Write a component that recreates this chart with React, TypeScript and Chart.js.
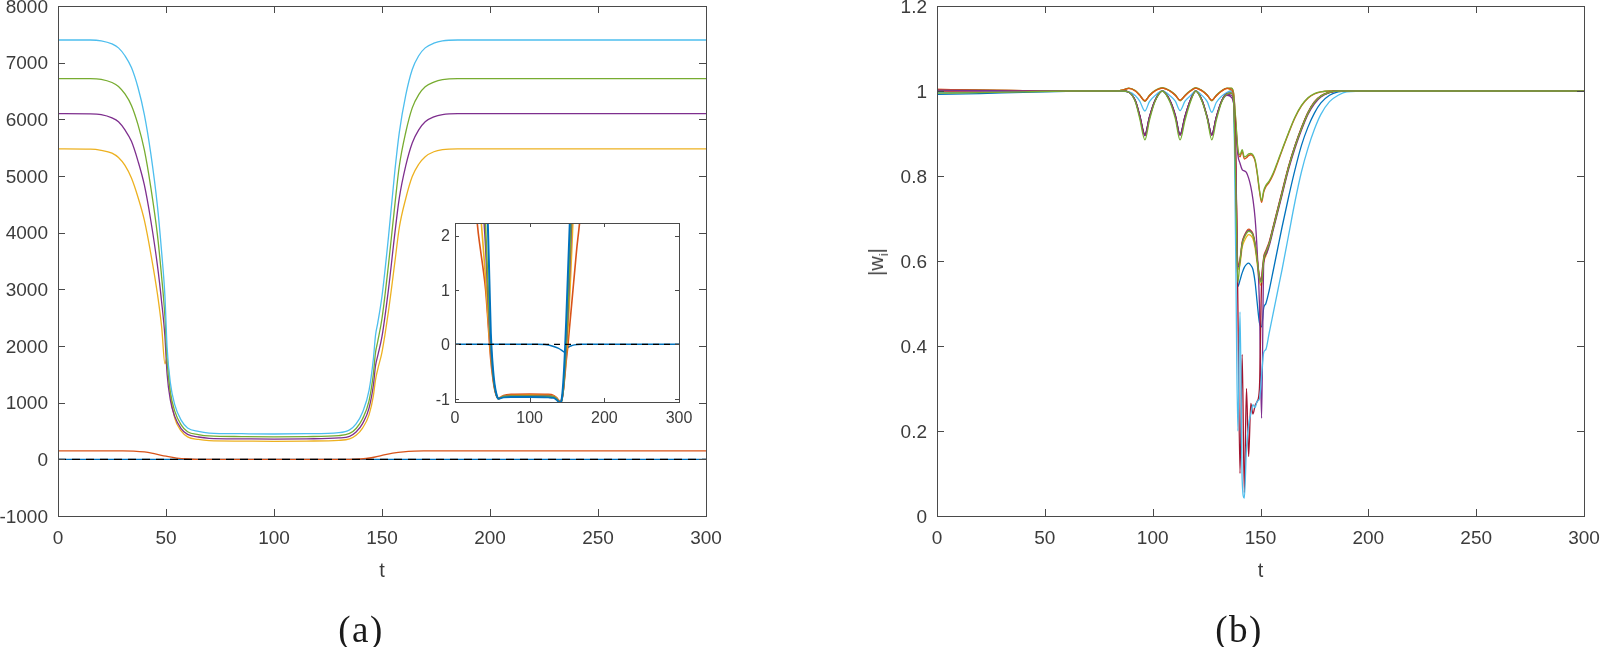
import React, { useEffect, useRef } from 'react';
import { Chart, registerables } from 'chart.js';
Chart.register(...registerables);

const FONT = '"Liberation Sans", Arial, Helvetica, sans-serif';
const AXIS = '#4a4a4a';
const TXT = '#3c3c3c';
const C = { blue: '#0072BD', red: '#D95319', yellow: '#EDB120', purple: '#7E2F8E', green: '#77AC30', cyan: '#4DBEEE', darkred: '#A2142F' };

// ---------- (a) main panel ----------
const xTicks = [0, 50, 100, 150, 200, 250, 300];
const xLabels = ['0', '50', '100', '150', '200', '250', '300'];
const yTicksA = [-1000, 0, 1000, 2000, 3000, 4000, 5000, 6000, 7000, 8000];
const yLabelsA = ['-1000', '0', '1000', '2000', '3000', '4000', '5000', '6000', '7000', '8000'];

const tA = [0, 15, 20, 25, 28, 31, 34, 37, 40, 43, 46, 48, 49.5, 50.5, 52, 54, 57, 60, 65, 70, 85, 100, 115, 130, 135, 138, 141, 144, 146, 147, 148, 150, 153, 156, 158, 161, 164, 167, 170, 174, 178, 185, 200, 300];
const cyanA = [7400, 7400, 7386, 7331, 7261, 7122, 6914, 6566, 6080, 5385, 4481, 3647, 2883, 1979, 1354, 971, 693, 554, 492, 464, 452, 447, 452, 471, 520, 624, 832, 1215, 1770, 2190, 2400, 2880, 3925, 5107, 5767, 6427, 6879, 7122, 7261, 7344, 7385, 7400, 7400, 7400];
const greenA = [6720, 6720, 6707, 6650, 6581, 6448, 6246, 5911, 5456, 4792, 3971, 3212, 2517, 1727, 1190, 855, 609, 488, 438, 413, 402, 398, 402, 419, 457, 545, 716, 1032, 1506, 1885, 2075, 2486, 3434, 4508, 5172, 5772, 6202, 6436, 6575, 6657, 6701, 6720, 6720, 6720];
const purpleA = [6100, 6097, 6083, 6025, 5957, 5813, 5612, 5268, 4837, 4206, 3431, 2771, 2168, 1508, 1049, 762, 544, 440, 394, 371, 362, 358, 362, 377, 406, 481, 630, 905, 1307, 1652, 1824, 2168, 3000, 4005, 4608, 5182, 5583, 5813, 5957, 6043, 6083, 6100, 6100, 6100];
const yellowA = [5480, 5475, 5454, 5403, 5325, 5186, 4964, 4629, 4216, 3622, 2926, 2332, 1687, 1791, 1146, 733, 501, 397, 351, 330, 322, 318, 322, 335, 361, 423, 552, 784, 1120, 1404, 1584, 1894, 2616, 3493, 4087, 4603, 4990, 5207, 5341, 5428, 5465, 5480, 5480, 5480];

const tRed = [0, 25, 30, 35, 40, 45, 50, 55, 60, 65, 100, 135, 140, 145, 150, 155, 160, 165, 170, 175, 300];
const redA = [150, 150, 150, 146, 130, 95, 55, 22, 6, 1, 0, 0, 6, 28, 70, 108, 133, 145, 149, 150, 150];

const tBlue = [0, 110, 120, 130, 138, 143, 146, 147, 150, 155, 160, 170, 300];
const blueA = [0, 0, -0.005, -0.03, -0.07, -0.11, -0.14, -0.12, -0.07, -0.03, -0.01, 0, 0];
const tZero = [0, 300];
const zeroLine = [0, 0];

// ---------- inset ----------
const xTicksIn = [0, 100, 200, 300];
const xLabelsIn = ['0', '100', '200', '300'];
const yTicksIn = [-1, 0, 1, 2];
const yLabelsIn = ['-1', '0', '1', '2'];
const tIn = [0, 20, 26, 30, 34, 38, 41, 44, 46, 48, 50, 52, 54, 56, 58, 61, 65, 75, 100, 125, 132, 136, 139, 141, 143, 145, 147, 149, 151, 153, 155, 157, 159, 161, 163, 165, 167, 170, 180, 300];
const inRed = [9, 4.8, 3.0, 2.2, 1.75, 1.35, 1.0, 0.45, 0.05, -0.3, -0.55, -0.75, -0.88, -0.96, -0.99, -0.97, -0.94, -0.92, -0.915, -0.92, -0.94, -0.98, -1.03, -1.05, -1.0, -0.85, -0.6, -0.3, -0.05, 0.25, 0.55, 0.85, 1.15, 1.45, 1.75, 2.0, 2.25, 2.7, 4.5, 9];
const inYellow = [9, 6, 4, 3.2, 2.45, 1.75, 1.2, 0.55, 0.15, -0.2, -0.5, -0.72, -0.87, -0.96, -1.0, -0.98, -0.955, -0.94, -0.935, -0.94, -0.955, -0.99, -1.04, -1.06, -1.02, -0.85, -0.55, -0.2, 0.2, 0.7, 1.3, 1.95, 2.6, 3.2, 3.8, 4.3, 4.8, 5.4, 7, 9];
const inPurple = [9, 7, 5, 4, 3.2, 2.45, 1.8, 0.9, 0.35, -0.1, -0.45, -0.7, -0.86, -0.96, -1.0, -0.985, -0.96, -0.95, -0.945, -0.95, -0.965, -1.0, -1.045, -1.065, -1.03, -0.85, -0.5, -0.05, 0.5, 1.15, 1.85, 2.6, 3.3, 4.0, 4.6, 5.2, 5.7, 6.3, 7.5, 9];
const inGreen = [9, 7.5, 5.5, 4.4, 3.5, 2.7, 2.15, 1.1, 0.5, 0.0, -0.4, -0.68, -0.85, -0.95, -1.0, -0.985, -0.96, -0.95, -0.95, -0.955, -0.97, -1.005, -1.05, -1.07, -1.03, -0.83, -0.45, 0.05, 0.65, 1.35, 2.1, 2.9, 3.6, 4.3, 4.9, 5.5, 6.0, 6.6, 7.8, 9];
const inBlue = [9, 8, 6.5, 5.5, 4.6, 3.7, 3.0, 2.2, 1.2, 0.2, -0.3, -0.62, -0.82, -0.94, -1.0, -0.99, -0.975, -0.97, -0.97, -0.975, -0.985, -1.02, -1.06, -1.075, -1.0, -0.7, -0.2, 0.45, 1.2, 1.95, 2.7, 3.4, 4.1, 4.7, 5.3, 5.9, 6.4, 7.0, 8.0, 9];

// ---------- (b) panel ----------
const yTicksB = [0, 0.2, 0.4, 0.6, 0.8, 1, 1.2];
const yLabelsB = ['0', '0.2', '0.4', '0.6', '0.8', '1', '1.2'];
const tB = [0, 20, 40, 60, 75, 82, 86, 89, 92, 94, 96.4, 98.5, 101, 104.5, 108, 110.5, 112.7, 115, 117.5, 120, 123, 125.3, 127.4, 129.5, 132, 134.5, 136.5, 137.5, 138.5, 139.5, 140.5, 141.5, 142.5, 143.5, 144.5, 145.5, 146.5, 147.5, 148.5, 149.5, 150.5, 151.5, 152.5, 154, 156, 158, 160, 163, 166, 169, 172, 175, 178, 182, 186, 190, 200, 250, 300];
const wBlue = [0.992, 0.994, 0.997, 0.999, 1.0, 1.0,
  1.0, 0.997, 0.977, 0.943, 0.898, 0.939, 0.977, 1.0, 0.978, 0.943, 0.898, 0.941, 0.979, 1.0, 0.977, 0.939, 0.898, 0.939, 0.977, 0.995,
  0.995, 0.975, 0.76, 0.54, 0.555, 0.572, 0.585, 0.592, 0.595, 0.59, 0.58, 0.55, 0.5, 0.455, 0.445, 0.49, 0.5, 0.53, 0.58, 0.63, 0.68, 0.75, 0.815, 0.872, 0.915, 0.948, 0.972, 0.99, 0.998, 1.0, 1.0, 1.0, 1.0];
const wRedA = [1.004, 1.002, 1.001, 1.0, 1.0, 1.0,
  1.002, 1.006, 1.0, 0.99, 0.977, 0.989, 1.0, 1.007, 1.0, 0.99, 0.978, 0.989, 1.0, 1.007, 1.0, 0.99, 0.978, 0.989, 1.0, 1.006,
  1.006, 0.995, 0.93, 0.86, 0.845, 0.858, 0.84, 0.843, 0.848, 0.85, 0.847, 0.835, 0.805, 0.765, 0.738, 0.762, 0.775, 0.785, 0.805, 0.832, 0.86, 0.9, 0.937, 0.965, 0.983, 0.993, 0.998, 1.0, 1.0, 1.0, 1.0, 1.0, 1.0];
const wYellowB = [1.001, 1.001, 1.0, 1.0, 1.0, 1.0,
  1.002, 1.006, 1.0, 0.99, 0.977, 0.989, 1.0, 1.007, 1.0, 0.99, 0.978, 0.989, 1.0, 1.007, 1.0, 0.99, 0.978, 0.989, 1.0, 1.006,
  1.0, 0.985, 0.82, 0.58, 0.592, 0.632, 0.647, 0.657, 0.662, 0.66, 0.652, 0.63, 0.592, 0.552, 0.542, 0.597, 0.612, 0.64, 0.68, 0.72, 0.76, 0.82, 0.87, 0.912, 0.948, 0.973, 0.988, 0.997, 1.0, 1.0, 1.0, 1.0, 1.0];
const wPurpleP = [1.003, 1.002, 1.0, 1.0, 1.0, 1.0,
  1.0, 0.997, 0.976, 0.941, 0.895, 0.937, 0.976, 1.0, 0.977, 0.941, 0.896, 0.939, 0.978, 1.0, 0.976, 0.937, 0.896, 0.937, 0.976, 0.99,
  0.985, 0.972, 0.92, 0.85, 0.83, 0.815, 0.812, 0.808, 0.795, 0.775, 0.745, 0.7, 0.62, 0.5, 0.23, 0.595, 0.615, 0.635, 0.675, 0.715, 0.755, 0.815, 0.865, 0.908, 0.945, 0.97, 0.986, 0.996, 1.0, 1.0, 1.0, 1.0, 1.0];
const wGreenA = [1.003, 1.002, 1.001, 1.0, 1.0, 1.0,
  1.002, 1.007, 1.001, 0.991, 0.976, 0.99, 1.001, 1.008, 1.001, 0.991, 0.977, 0.99, 1.001, 1.008, 1.001, 0.991, 0.977, 0.99, 1.001, 1.007,
  1.007, 0.996, 0.935, 0.865, 0.85, 0.862, 0.845, 0.847, 0.852, 0.853, 0.85, 0.838, 0.808, 0.768, 0.742, 0.766, 0.778, 0.788, 0.808, 0.835, 0.862, 0.902, 0.939, 0.966, 0.984, 0.994, 0.998, 1.0, 1.0, 1.0, 1.0, 1.0, 1.0];
const wCyan = [0.996, 0.997, 0.999, 1.0, 1.0, 1.0,
  0.999, 0.998, 0.989, 0.976, 0.953, 0.975, 0.989, 1.0, 0.989, 0.976, 0.954, 0.976, 0.989, 1.0, 0.989, 0.975, 0.95, 0.973, 0.988, 0.997,
  1.0, 0.985, 0.62, 0.2, 0.48, 0.085, 0.042, 0.16, 0.215, 0.24, 0.262, 0.255, 0.27, 0.275, 0.33, 0.385, 0.392, 0.43, 0.48, 0.53, 0.58, 0.66, 0.74, 0.81, 0.865, 0.91, 0.945, 0.975, 0.99, 0.998, 1.0, 1.0, 1.0];
const wDarkRed = [0.998, 0.998, 0.999, 1.0, 1.0, 1.0,
  1.0, 0.997, 0.977, 0.943, 0.897, 0.939, 0.977, 1.0, 0.978, 0.943, 0.897, 0.941, 0.979, 1.0, 0.977, 0.939, 0.897, 0.939, 0.977, 0.995,
  0.995, 0.975, 0.87, 0.5, 0.1, 0.38, 0.055, 0.3, 0.14, 0.265, 0.24, 0.26, 0.27, 0.3, 0.55, 0.6, 0.62, 0.64, 0.68, 0.72, 0.76, 0.82, 0.87, 0.912, 0.948, 0.973, 0.988, 0.997, 1.0, 1.0, 1.0, 1.0, 1.0];
const wRedB = [1.004, 1.002, 1.001, 1.0, 1.0, 1.0,
  1.002, 1.006, 1.0, 0.99, 0.977, 0.989, 1.0, 1.007, 1.0, 0.99, 0.978, 0.989, 1.0, 1.007, 1.0, 0.99, 0.978, 0.989, 1.0, 1.006,
  1.003, 0.988, 0.83, 0.59, 0.605, 0.645, 0.66, 0.67, 0.675, 0.672, 0.664, 0.642, 0.605, 0.565, 0.555, 0.61, 0.625, 0.645, 0.684, 0.724, 0.764, 0.823, 0.872, 0.914, 0.95, 0.975, 0.989, 0.998, 1.0, 1.0, 1.0, 1.0, 1.0];
const wPurpleB = [1.002, 1.001, 1.0, 1.0, 1.0, 1.0,
  1.0, 0.997, 0.976, 0.941, 0.895, 0.937, 0.976, 1.0, 0.977, 0.941, 0.896, 0.939, 0.978, 1.0, 0.976, 0.937, 0.896, 0.937, 0.976, 0.993,
  0.99, 0.98, 0.83, 0.585, 0.6, 0.642, 0.658, 0.668, 0.672, 0.67, 0.662, 0.64, 0.602, 0.562, 0.552, 0.607, 0.622, 0.642, 0.682, 0.722, 0.762, 0.821, 0.871, 0.913, 0.949, 0.974, 0.988, 0.997, 1.0, 1.0, 1.0, 1.0, 1.0];
const wGreenB = [0.995, 0.996, 0.998, 1.0, 1.0, 1.0,
  1.0, 0.997, 0.974, 0.935, 0.885, 0.931, 0.974, 1.0, 0.974, 0.935, 0.885, 0.931, 0.974, 1.0, 0.974, 0.935, 0.885, 0.931, 0.974, 0.993,
  0.995, 0.98, 0.78, 0.55, 0.6, 0.64, 0.655, 0.665, 0.67, 0.668, 0.66, 0.638, 0.6, 0.56, 0.55, 0.605, 0.62, 0.64, 0.68, 0.72, 0.76, 0.82, 0.87, 0.912, 0.948, 0.973, 0.988, 0.997, 1.0, 1.0, 1.0, 1.0, 1.0];

// ---------- helpers ----------
const pts = (t: number[], v: number[]) => t.map((x, i) => ({ x, y: v[i] }));

function line(t: number[], v: number[], color: string, width = 1.3, dash: number[] = []) {
  return {
    data: pts(t, v), borderColor: color, backgroundColor: color, borderWidth: width,
    borderDash: dash, pointRadius: 0, fill: false, cubicInterpolationMode: 'monotone', clip: 0,
  } as any;
}

function scale(axis: 'x' | 'y', min: number, max: number, ticks: number[], labels: string[], fontSize: number, pad: number, size: number, title?: any) {
  return {
    type: 'linear', min, max,
    grid: { display: false, drawTicks: false },
    border: { display: false },
    ticks: {
      autoSkip: false, maxRotation: 0, minRotation: 0, padding: pad, color: TXT,
      labelOffset: axis === 'y' ? 1.5 : 0,
      font: { family: FONT, size: fontSize },
      callback: (_v: any, i: number) => labels[i],
    },
    afterBuildTicks: (s: any) => { s.ticks = ticks.map((v) => ({ value: v })); },
    afterFit: (s: any) => {
      if (axis === 'x') { s.height = size; s.paddingLeft = 0; s.paddingRight = 0; }
      else { s.width = size; s.paddingTop = 0; s.paddingBottom = 0; }
    },
    title: title || { display: false },
  } as any;
}

function boxPlugin(tickLen: number) {
  return {
    id: 'matlabBox',
    afterDatasetsDraw(chart: any) {
      const { ctx, chartArea: a, scales } = chart;
      ctx.save();
      ctx.strokeStyle = AXIS;
      ctx.lineWidth = 1;
      ctx.beginPath();
      for (const tk of scales.x.ticks) {
        const px = Math.round(scales.x.getPixelForValue(tk.value)) + 0.5;
        if (px <= a.left + 1.5 || px >= a.right - 1.5) continue;
        ctx.moveTo(px, a.bottom); ctx.lineTo(px, a.bottom - tickLen);
        ctx.moveTo(px, a.top); ctx.lineTo(px, a.top + tickLen);
      }
      for (const tk of scales.y.ticks) {
        const py = Math.round(scales.y.getPixelForValue(tk.value)) + 0.5;
        if (py <= a.top + 1.5 || py >= a.bottom - 1.5) continue;
        ctx.moveTo(a.left, py); ctx.lineTo(a.left + tickLen, py);
        ctx.moveTo(a.right, py); ctx.lineTo(a.right - tickLen, py);
      }
      ctx.stroke();
      ctx.strokeRect(Math.round(a.left) + 0.5, Math.round(a.top) + 0.5, Math.round(a.right - a.left), Math.round(a.bottom - a.top));
      ctx.restore();
    },
  };
}

const whiteBg = {
  id: 'whiteBg',
  beforeDraw(chart: any) {
    const { ctx, chartArea: a } = chart;
    ctx.save();
    ctx.fillStyle = '#ffffff';
    ctx.fillRect(a.left, a.top, a.right - a.left, a.bottom - a.top);
    ctx.restore();
  },
};

const tTitle = (padBottom: number) => ({
  display: true, text: 't', color: TXT, font: { family: FONT, size: 20 }, padding: { top: 0, bottom: padBottom },
});

const baseOptions = {
  responsive: false, maintainAspectRatio: false, animation: false, devicePixelRatio: 1,
  plugins: { legend: { display: false }, tooltip: { enabled: false } },
  events: [],
};

export default function App() {
  const leftRef = useRef<HTMLCanvasElement>(null);
  const rightRef = useRef<HTMLCanvasElement>(null);
  const insetRef = useRef<HTMLCanvasElement>(null);

  useEffect(() => {
    const charts: Chart[] = [];
    const leftSets = [
      line(tBlue, blueA, C.blue),
      line(tRed, redA, C.red),
      line(tA, yellowA, C.yellow),
      line(tA, purpleA, C.purple),
      line(tA, greenA, C.green),
      line(tA, cyanA, C.cyan),
      line(tZero, zeroLine, '#000000', 1.3, [8, 6]),
    ].reverse();
    charts.push(new Chart(leftRef.current as HTMLCanvasElement, {
      type: 'line',
      data: { datasets: leftSets },
      options: {
        ...baseOptions,
        layout: { padding: { left: 0, top: 6, right: 94, bottom: 0 } },
        scales: {
          x: scale('x', 0, 300, xTicks, xLabels, 19, 11, 131, tTitle(64)),
          y: scale('y', -1000, 8000, yTicksA, yLabelsA, 19, 10, 58),
        },
      } as any,
      plugins: [boxPlugin(7)],
    }));

    const insetSets = [
      line(tBlue, blueA, C.blue, 1.5),
      line(tIn, inRed, C.red, 1.6),
      line(tIn, inYellow, C.yellow, 1.6),
      line(tIn, inPurple, C.purple, 1.6),
      line(tIn, inGreen, C.green, 1.6),
      line(tIn, inBlue, C.blue, 2.0),
      line(tZero, zeroLine, '#000000', 1.3, [6, 5]),
    ].reverse();
    charts.push(new Chart(insetRef.current as HTMLCanvasElement, {
      type: 'line',
      data: { datasets: insetSets },
      options: {
        ...baseOptions,
        layout: { padding: { left: 0, top: 8, right: 16, bottom: 0 } },
        scales: {
          x: scale('x', 0, 300, xTicksIn, xLabelsIn, 16, 7, 33),
          y: scale('y', -1.06, 2.23, yTicksIn, yLabelsIn, 16, 5, 40),
        },
      } as any,
      plugins: [whiteBg, boxPlugin(4)],
    }));

    const rightSets = [
      line(tB, wBlue, C.blue),
      line(tB, wRedA, C.red),
      line(tB, wYellowB, C.yellow),
      line(tB, wPurpleP, C.purple),
      line(tB, wGreenA, C.green),
      line(tB, wDarkRed, C.darkred),
      line(tB, wCyan, C.cyan),
      line(tB, wRedB, C.red),
      line(tB, wPurpleB, C.purple),
      line(tB, wGreenB, C.green),
    ].reverse();
    charts.push(new Chart(rightRef.current as HTMLCanvasElement, {
      type: 'line',
      data: { datasets: rightSets },
      options: {
        ...baseOptions,
        layout: { padding: { left: 0, top: 6, right: 16, bottom: 0 } },
        scales: {
          x: scale('x', 0, 300, xTicks, xLabels, 19, 11, 131, tTitle(64)),
          y: scale('y', 0, 1.2, yTicksB, yLabelsB, 19, 10, 137),
        },
      } as any,
      plugins: [boxPlugin(7)],
    }));

    return () => { charts.forEach((c) => c.destroy()); };
  }, []);

  const capStyle: React.CSSProperties = {
    position: 'absolute', top: 629, transform: 'translate(-50%, -50%)',
    fontFamily: '"Liberation Serif", "Times New Roman", serif', fontSize: 37, lineHeight: 1,
    color: '#1a1a1a', letterSpacing: 1.5, whiteSpace: 'nowrap',
  };

  return (
    <div style={{ position: 'fixed', left: 0, top: 0, width: 1600, height: 647, background: '#ffffff', overflow: 'hidden' }}>
      <canvas ref={leftRef} width={800} height={647} style={{ position: 'absolute', left: 0, top: 0, width: 800, height: 647 }} />
      <canvas ref={rightRef} width={800} height={647} style={{ position: 'absolute', left: 800, top: 0, width: 800, height: 647 }} />
      <canvas ref={insetRef} width={280} height={220} style={{ position: 'absolute', left: 415, top: 215, width: 280, height: 220 }} />
      <div style={{ ...capStyle, left: 361 }}>(a)</div>
      <div style={{ ...capStyle, left: 1239 }}>(b)</div>
      <div style={{
        position: 'absolute', left: 878, top: 262, transform: 'translate(-50%, -50%) rotate(-90deg)',
        fontFamily: FONT, fontSize: 20, color: TXT, whiteSpace: 'nowrap', lineHeight: 1,
      }}>|w<sub style={{ fontSize: 13 }}>i</sub>|</div>
    </div>
  );
}
